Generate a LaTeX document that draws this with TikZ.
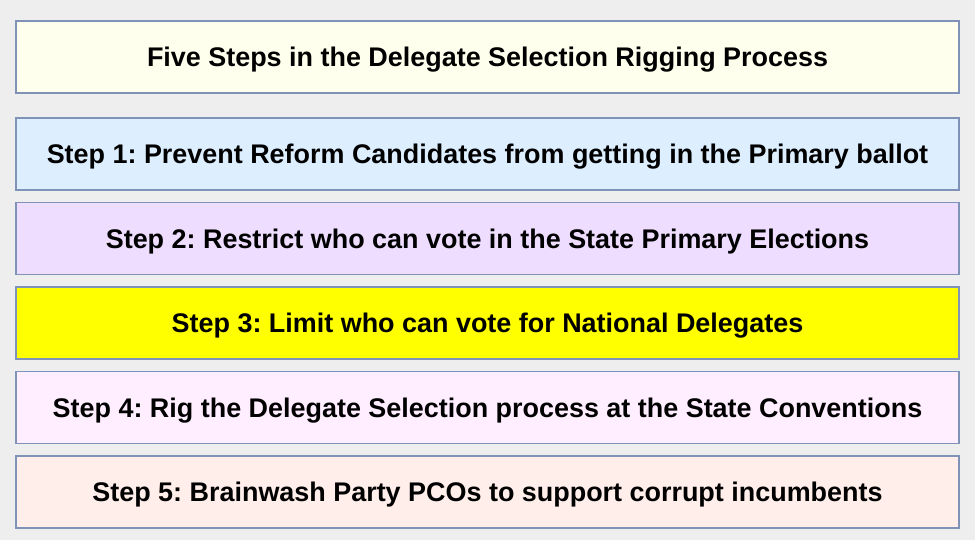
\documentclass[tikz,border=0pt]{standalone}
\usepackage{fontspec}
\setmainfont{Liberation Sans}
\frenchspacing
\definecolor{bggray}{HTML}{EEEEEE}
\definecolor{edgeblue}{HTML}{7F93B8}
\definecolor{titlefill}{HTML}{FFFFEE}
\definecolor{onefill}{HTML}{DDEEFF}
\definecolor{twofill}{HTML}{EEDDFF}
\definecolor{threefill}{HTML}{FFFF00}
\definecolor{fourfill}{HTML}{FFEEFF}
\definecolor{fivefill}{HTML}{FFEEEA}
\tikzset{
  stepbox/.style={draw=edgeblue, line width=0.9pt, minimum width=707.25pt,
    minimum height=54pt, inner sep=0pt, text height=14.5pt, text depth=0pt,
    font=\fontsize{20.2}{24}\selectfont\bfseries}
}
\begin{document}
\begin{tikzpicture}[x=0.75pt,y=-0.75pt]
		%%%%% BACKGROUND %%%%%
		\fill[bggray] (0,0) rectangle (975,540);
		\useasboundingbox (0,0) rectangle (975,540);
		
		%%%%% BOXES %%%%%
		\node[stepbox, fill=titlefill] (title) at (487.5,57) {Five Steps in the Delegate Selection Rigging Process};
		
		\node[stepbox, fill=onefill] (step1) at (487.5,154) {Step 1: Prevent Reform Candidates from getting in the Primary ballot};
		\node[stepbox, fill=twofill] (step2) at (487.5,238.5) {Step 2: Restrict who can vote in the State Primary Elections};
		\node[stepbox, fill=threefill] (step3) at (487.5,323) {Step 3: Limit who can vote for National Delegates};
		\node[stepbox, fill=fourfill] (step4) at (487.5,407.5) {Step 4: Rig the Delegate Selection process at the State Conventions};
		\node[stepbox, fill=fivefill] (step5) at (487.5,492) {Step 5: Brainwash Party PCOs to support corrupt incumbents};
\end{tikzpicture}
\end{document}
